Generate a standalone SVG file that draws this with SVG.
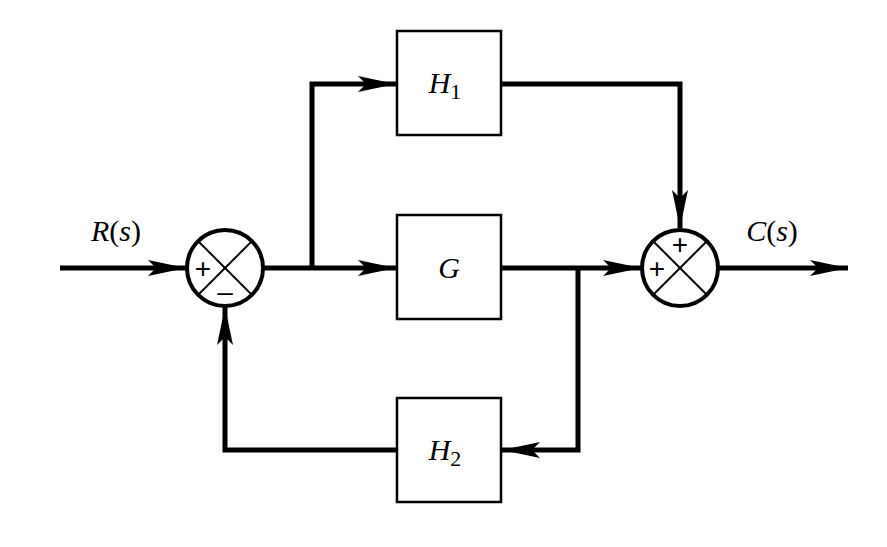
<svg xmlns="http://www.w3.org/2000/svg" width="887" height="547" viewBox="0 0 887 547">
<style>
.w{fill:none;stroke:#000;stroke-width:5;stroke-linejoin:miter}
.b{fill:#fff;stroke:#000;stroke-width:2.5}
.c{fill:#fff;stroke:#000;stroke-width:4}
.x{stroke:#000;stroke-width:2}
.t{font-family:"Liberation Serif",serif;font-style:italic;font-size:30px}
.s{font-family:"Liberation Sans",sans-serif;font-size:28px}
</style>
<defs>
<marker id="a" markerUnits="userSpaceOnUse" markerWidth="40" markerHeight="20" refX="38" refY="8" orient="auto" viewBox="0 0 40 16">
<path d="M0,0 L38,8 L0,16 L8,8 Z" fill="#000"/>
</marker>
</defs>
<g id="connectors">
<path class="w" d="M60,268 H186" marker-end="url(#a)"/>
<path class="w" d="M264,268 H396" marker-end="url(#a)"/>
<path class="w" d="M312,268 V84 H396" marker-end="url(#a)"/>
<path class="w" d="M501,84 H680 V228" marker-end="url(#a)"/>
<path class="w" d="M501,268 H641" marker-end="url(#a)"/>
<path class="w" d="M578,268 V450 H502" marker-end="url(#a)"/>
<path class="w" d="M397,450 H225 V307" marker-end="url(#a)"/>
<path class="w" d="M719,268 H848" marker-end="url(#a)"/>
</g>
<g id="sum1">
<circle class="c" cx="225" cy="268" r="38"/>
<line class="x" x1="198" y1="241" x2="252" y2="295"/>
<line class="x" x1="252" y1="241" x2="198" y2="295"/>
<text class="s" x="203" y="278" text-anchor="middle">+</text>
<text class="s" x="225" y="301" text-anchor="middle">–</text>
</g>
<g id="sum2">
<circle class="c" cx="680" cy="268" r="38"/>
<line class="x" x1="653" y1="241" x2="707" y2="295"/>
<line class="x" x1="707" y1="241" x2="653" y2="295"/>
<text class="s" x="680" y="254" text-anchor="middle">+</text>
<text class="s" x="657" y="278" text-anchor="middle">+</text>
</g>
<g id="H1"><rect class="b" x="397" y="31" width="104" height="104"/><text class="t" x="445" y="93" text-anchor="middle">H<tspan font-style="normal" font-size="22" dy="6">1</tspan></text></g>
<g id="G"><rect class="b" x="397" y="215" width="104" height="104"/><text class="t" x="449" y="278" text-anchor="middle">G</text></g>
<g id="H2"><rect class="b" x="397" y="398" width="104" height="104"/><text class="t" x="445" y="460" text-anchor="middle">H<tspan font-style="normal" font-size="22" dy="6">2</tspan></text></g>
<g id="labels">
<text class="t" x="116" y="241" text-anchor="middle">R<tspan font-style="normal">(</tspan>s<tspan font-style="normal">)</tspan></text>
<text class="t" x="772" y="241" text-anchor="middle">C<tspan font-style="normal">(</tspan>s<tspan font-style="normal">)</tspan></text>
</g>
</svg>
